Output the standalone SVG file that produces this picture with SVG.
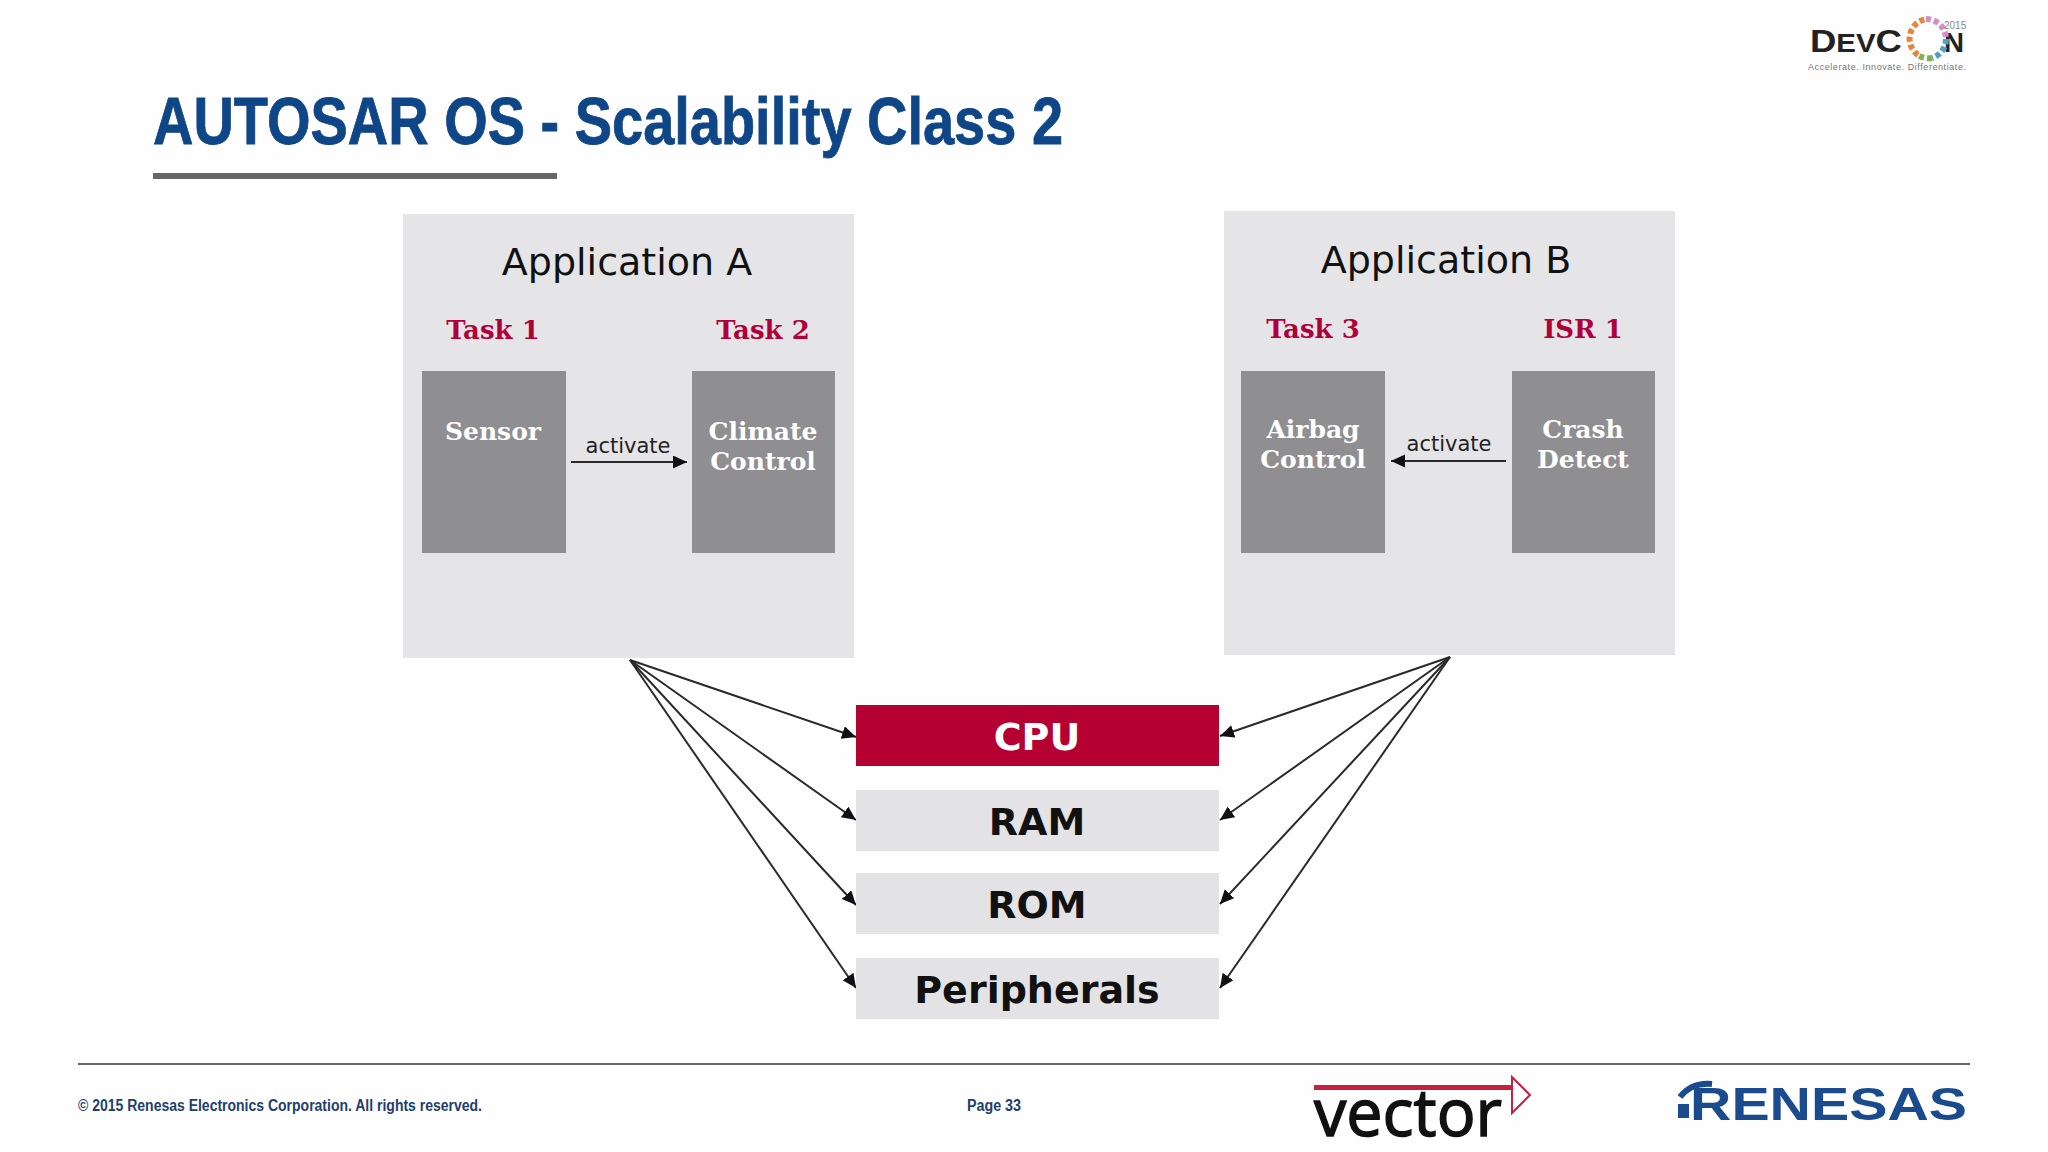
<svg xmlns="http://www.w3.org/2000/svg" width="2048" height="1152" viewBox="0 0 2048 1152">
<style>
.app{fill:#e5e5e7}
.box{fill:#8f8e90}
.bar{fill:#e3e3e5}
.apptxt{font-family:"DejaVu Sans",sans-serif;font-size:38px;fill:#111;text-anchor:middle}
.task{font-family:"DejaVu Serif",serif;font-weight:700;font-size:26px;fill:#b0003a;text-anchor:middle}
.in{font-family:"DejaVu Serif",serif;font-weight:700;font-size:25px;fill:#fff;text-anchor:middle}
.act{font-family:"DejaVu Sans",sans-serif;font-size:21px;fill:#222;text-anchor:middle}
.res{font-family:"DejaVu Sans",sans-serif;font-weight:700;font-size:38px;fill:#111;text-anchor:middle}
.foot{font-family:"Liberation Sans",sans-serif;font-weight:700;font-size:16px;fill:#1f3f6f}
.c{stroke:#2a2a2a;stroke-width:2;fill:none;marker-end:url(#a)}
</style>
<defs>
<marker id="a" markerUnits="userSpaceOnUse" markerWidth="15" markerHeight="14" refX="14" refY="6.5" orient="auto"><path d="M0 0L14 6.5L0 13Z" fill="#111"/></marker>
</defs>
<rect width="2048" height="1152" fill="#fefefe"/>
<g id="title">
<text x="153" y="144" font-family="'Liberation Sans',sans-serif" font-weight="700" font-size="66" fill="#0f4687" stroke="#0f4687" stroke-width="0.8" textLength="910" lengthAdjust="spacingAndGlyphs">AUTOSAR OS - Scalability Class 2</text>
<rect x="153" y="173" width="404" height="6" fill="#666"/>
</g>
<g id="devcon-logo">
<text x="1810" y="52" font-family="'Liberation Sans',sans-serif" font-weight="700" font-size="31" fill="#222" textLength="92" lengthAdjust="spacingAndGlyphs">D<tspan font-size="25">EV</tspan>C</text>
<text x="1944" y="52" font-family="'Liberation Sans',sans-serif" font-weight="700" font-size="27" fill="#222" textLength="20" lengthAdjust="spacingAndGlyphs">N</text>
<g fill="none" stroke-width="6" stroke-dasharray="5 3">
<path d="M1918 55A20 20 0 0 1 1926 19" stroke="#e8853a"/>
<path d="M1926 19A20 20 0 0 1 1946 39" stroke="#d98bc4"/>
<path d="M1946 39A20 20 0 0 1 1932 58" stroke="#4f9fc4"/>
<path d="M1932 58A20 20 0 0 1 1918 55" stroke="#7fb24a"/>
</g>
<text x="1944" y="29" font-family="'Liberation Sans',sans-serif" font-size="10" fill="#888">2015</text>
<text x="1808" y="70" font-family="'Liberation Sans',sans-serif" font-size="9" fill="#777" textLength="158">Accelerate. Innovate. Differentiate.</text>
</g>
<g id="app-a"><rect class="app" x="403" y="214" width="451" height="444"/><text class="apptxt" x="627" y="275">Application A</text></g>
<g id="app-b"><rect class="app" x="1224" y="211" width="451" height="444"/><text class="apptxt" x="1446" y="273">Application B</text></g>
<g id="connectors">
<path class="c" d="M630 660L856 737"/>
<path class="c" d="M630 660L856 820"/>
<path class="c" d="M630 660L856 905"/>
<path class="c" d="M630 660L856 988"/>
<path class="c" d="M1450 657L1220 736"/>
<path class="c" d="M1450 657L1220 820"/>
<path class="c" d="M1450 657L1220 904"/>
<path class="c" d="M1450 657L1220 988"/>
<path class="c" d="M571 462L687 462"/>
<path class="c" d="M1506 461L1391 461"/>
<text class="act" x="628" y="453">activate</text>
<text class="act" x="1449" y="451">activate</text>
</g>
<g id="task1"><text class="task" x="493" y="339">Task 1</text><rect class="box" x="422" y="371" width="144" height="182"/><text class="in" x="493" y="440">Sensor</text></g>
<g id="task2"><text class="task" x="763" y="339">Task 2</text><rect class="box" x="692" y="371" width="143" height="182"/><text class="in" x="763" y="440">Climate</text><text class="in" x="763" y="470">Control</text></g>
<g id="task3"><text class="task" x="1313" y="338">Task 3</text><rect class="box" x="1241" y="371" width="144" height="182"/><text class="in" x="1313" y="438">Airbag</text><text class="in" x="1313" y="468">Control</text></g>
<g id="isr1"><text class="task" x="1583" y="338">ISR 1</text><rect class="box" x="1512" y="371" width="143" height="182"/><text class="in" x="1583" y="438">Crash</text><text class="in" x="1583" y="468">Detect</text></g>
<g id="cpu"><rect x="856" y="705" width="363" height="61" fill="#b50032"/><text class="res" x="1037" y="750" style="fill:#fff">CPU</text></g>
<g id="ram"><rect class="bar" x="856" y="790" width="363" height="61"/><text class="res" x="1037" y="835">RAM</text></g>
<g id="rom"><rect class="bar" x="856" y="873" width="363" height="61"/><text class="res" x="1037" y="918">ROM</text></g>
<g id="peripherals"><rect class="bar" x="856" y="958" width="363" height="61"/><text class="res" x="1037" y="1003">Peripherals</text></g>
<g id="footer">
<rect x="78" y="1063" width="1892" height="2" fill="#666"/>
<text class="foot" x="78" y="1111" textLength="404" lengthAdjust="spacingAndGlyphs">© 2015 Renesas Electronics Corporation. All rights reserved.</text>
<text class="foot" x="967" y="1111" textLength="54" lengthAdjust="spacingAndGlyphs">Page 33</text>
</g>
<g id="vector-logo">
<rect x="1314" y="1085" width="198" height="5" fill="#c8203f"/>
<path d="M1512 1077L1530 1095L1512 1113Z" fill="#fff" stroke="#c8203f" stroke-width="2"/>
<text x="1314" y="1136" font-family="'Open Sans',sans-serif" font-size="66" fill="#111" stroke="#111" stroke-width="1.5" textLength="188" lengthAdjust="spacingAndGlyphs">vector</text>
</g>
<g id="renesas-logo">
<rect x="1678" y="1104" width="11" height="14" fill="#1a4b8f"/>
<path d="M1680 1097Q1692 1082 1712 1084" fill="none" stroke="#1a4b8f" stroke-width="6"/>
<text x="1690" y="1120" font-family="'Liberation Sans',sans-serif" font-weight="700" font-size="46" fill="#1a4b8f" textLength="277" lengthAdjust="spacingAndGlyphs">RENESAS</text>
</g>
</svg>
